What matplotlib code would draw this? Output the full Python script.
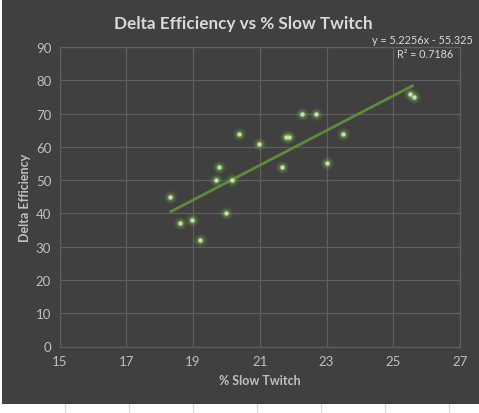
import numpy as np
import matplotlib.pyplot as plt
from matplotlib.patches import Rectangle

# % slow twitch vs delta efficiency
slow_twitch = [18.3, 18.6, 18.98, 19.2, 19.7, 19.79, 20.0, 20.18, 20.39, 20.99,
               21.68, 21.8, 21.89, 22.28, 22.7, 23.0, 23.48, 25.49, 25.61]
delta_eff = [45, 37, 38, 32, 50, 54, 40, 50, 64, 61,
             54, 63, 63, 70, 70, 55, 64, 76, 75]
x_ticks = [15, 17, 19, 21, 23, 25, 27]
y_ticks = [0, 10, 20, 30, 40, 50, 60, 70, 80, 90]
eq_text = "y = 5.2256x - 55.325"
r2_text = "R² = 0.7186"

plt.rcParams['font.family'] = ['Lato', 'DejaVu Sans']

bg = '#404040'
grid_c = '#5f5f5f'
txt_c = '#bfbfbf'

fig = plt.figure(figsize=(4.79, 4.14), dpi=100)
fig.patch.set_facecolor('white')

# spreadsheet cell lines peeking out below the chart
for xp in [65, 129, 193, 257, 321, 385, 449]:
    fig.add_artist(plt.Line2D([xp / 479, xp / 479], [0, 9 / 414], color='#d9d9d9', lw=0.8))
fig.add_artist(Rectangle((2 / 479, 9 / 414), 1 - 2 / 479, 1 - 9 / 414,
                         transform=fig.transFigure, facecolor=bg, edgecolor='none', zorder=0))

ax = fig.add_axes([59.5 / 479, 66.5 / 414, 400.5 / 479, 299.5 / 414])
ax.set_facecolor(bg)

x = np.array(slow_twitch)
y = np.array(delta_eff)

# glow around points
for s, a in [(90, 0.10), (55, 0.18), (32, 0.32)]:
    ax.scatter(x, y, s=s, color='#70ad47', alpha=a, linewidths=0, zorder=3)
ax.scatter(x, y, s=10, color='#c5e0b4', linewidths=0, zorder=4)

k, b = np.polyfit(x, y, 1)
xl = np.array([x.min(), x.max()])
ax.plot(xl, k * xl + b, color='#5e8a3a', lw=2, zorder=2, solid_capstyle='butt')

ax.set_xlim(15, 27)
ax.set_ylim(0, 90)
ax.set_xticks(x_ticks)
ax.set_yticks(y_ticks)
ax.grid(True, color=grid_c, lw=0.9)
ax.set_axisbelow(True)
for sp in ax.spines.values():
    sp.set_color(grid_c)
    sp.set_linewidth(0.9)
ax.tick_params(length=0, colors=txt_c, labelsize=9.5, pad=6)

ax.set_xlabel('% Slow Twitch', color=txt_c, fontsize=9, fontweight='bold', va='center')
ax.set_ylabel('Delta Efficiency', color=txt_c, fontsize=9, fontweight='bold', va='center')
ax.xaxis.set_label_coords(0.5, (347.5 - 381) / 299.5)
ax.yaxis.set_label_coords((25 - 59.5) / 400.5, 0.5)

fig.text(0.509, 1 - 24 / 414, 'Delta Efficiency vs % Slow Twitch', ha='center', va='center',
         color='#d9d9d9', fontsize=12.3, fontweight='bold')
fig.text(473 / 479, 1 - 40 / 414, eq_text, ha='right', va='center', color='#d9d9d9', fontsize=7.8)
fig.text(453 / 479, 1 - 55 / 414, r2_text, ha='right', va='center', color='#d9d9d9', fontsize=7.8)

fig.savefig('out.png', dpi=100, facecolor=fig.get_facecolor())
